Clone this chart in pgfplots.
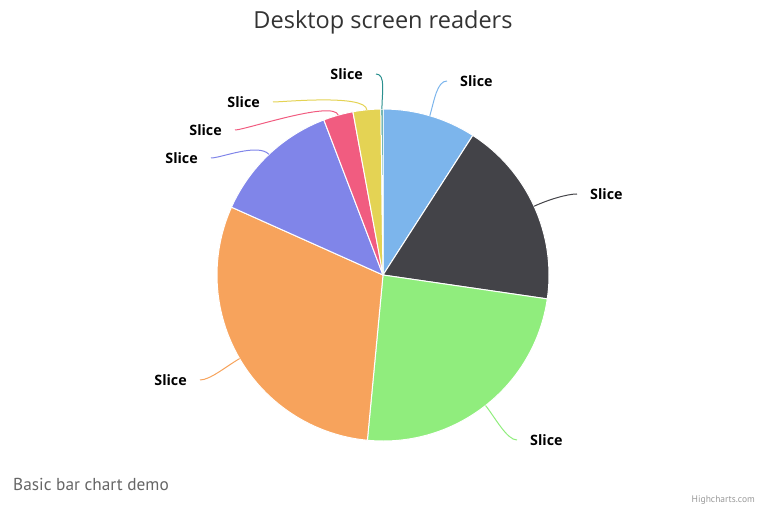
\documentclass[border=0pt]{standalone}
\usepackage{pgfplots}
\pgfplotsset{compat=1.18}
\usepackage{pgfplotstable}
\usepackage{fontspec}
\setmainfont{Open Sans}
\newfontfamily\narrowfont{PT Sans}

% Highcharts default palette
\definecolor{s0}{HTML}{7CB5EC}
\definecolor{s1}{HTML}{434348}
\definecolor{s2}{HTML}{90ED7D}
\definecolor{s3}{HTML}{F7A35C}
\definecolor{s4}{HTML}{8085E9}
\definecolor{s5}{HTML}{F15C80}
\definecolor{s6}{HTML}{E4D354}
\definecolor{s7}{HTML}{2B908F}

% share in percent, label position (inner edge) and side (1 right, -1 left)
\pgfplotstableread{
share labx laby side
9.1   460  431  1
18.2  590  318  1
24.2  530  72   1
30.2  187  132  -1
12.5  198  354  -1
2.9   222  382  -1
2.7   260  410  -1
0.2   363  438  -1
}\slices

\begin{document}
\begin{tikzpicture}
\begin{axis}[
    width=768pt, height=512pt, scale only axis,
    xmin=0, xmax=768, ymin=0, ymax=512,
    hide axis, clip=false
  ]
  \path (axis cs:0,0) rectangle (axis cs:768,512);
  \pgfplotsextra{
    \xdef\cum{0}
    \foreach \i in {0,...,7}{
      \pgfplotstablegetelem{\i}{share}\of\slices \let\v\pgfplotsretval
      \pgfmathsetmacro\a{90-\cum*3.6}
      \pgfmathsetmacro\b{90-(\cum+\v)*3.6}
      \fill[s\i, draw=white, line width=1pt, line join=round]
        (axis cs:383,237) -- ++(\a:166pt) arc[start angle=\a, end angle=\b, radius=166pt] -- cycle;
      \pgfmathsetmacro\newcum{\cum+\v}
      \xdef\cum{\newcum}
    }
    \xdef\cum{0}
    \foreach \i in {0,...,7}{
      \pgfplotstablegetelem{\i}{share}\of\slices \let\v\pgfplotsretval
      \pgfplotstablegetelem{\i}{labx}\of\slices \let\lx\pgfplotsretval
      \pgfplotstablegetelem{\i}{laby}\of\slices \let\ly\pgfplotsretval
      \pgfplotstablegetelem{\i}{side}\of\slices \let\sd\pgfplotsretval
      \pgfmathsetmacro\m{90-(\cum+\v/2)*3.6}
      \pgfmathsetmacro\px{383+166*cos(\m)}
      \pgfmathsetmacro\py{237+166*sin(\m)}
      \pgfmathsetmacro\cx{383+182*cos(\m)}
      \pgfmathsetmacro\cy{237+182*sin(\m)}
      \pgfmathsetmacro\ex{\lx-\sd*13}
      \pgfmathsetmacro\dx{\ex-\sd*10}
      \draw[s\i, line width=1pt]
        (axis cs:\px,\py) .. controls (axis cs:\cx,\cy) and (axis cs:\dx,\ly) .. (axis cs:\ex,\ly);
      \ifnum\sd>0 \def\anc{west}\else\def\anc{east}\fi
      \node[anchor=\anc, inner sep=0pt, text=black,
            font=\bfseries\fontsize{14.3}{17}\selectfont] at (axis cs:\lx,\ly) {Slice};
      \pgfmathsetmacro\newcum{\cum+\v}
      \xdef\cum{\newcum}
    }
  }
  \node[text=black!80, font=\fontsize{23.5}{28}\selectfont] at (axis cs:383,490) {Desktop screen readers};
  \node[anchor=west, inner sep=0pt, text=black!60, font=\narrowfont\fontsize{17.3}{20}\selectfont] at (axis cs:13,28) {Basic bar chart demo};
  \node[anchor=east, inner sep=0pt, text=black!40, font=\narrowfont\fontsize{9.5}{11}\selectfont] at (axis cs:755,12) {Highcharts.com};
\end{axis}
\end{tikzpicture}
\end{document}
